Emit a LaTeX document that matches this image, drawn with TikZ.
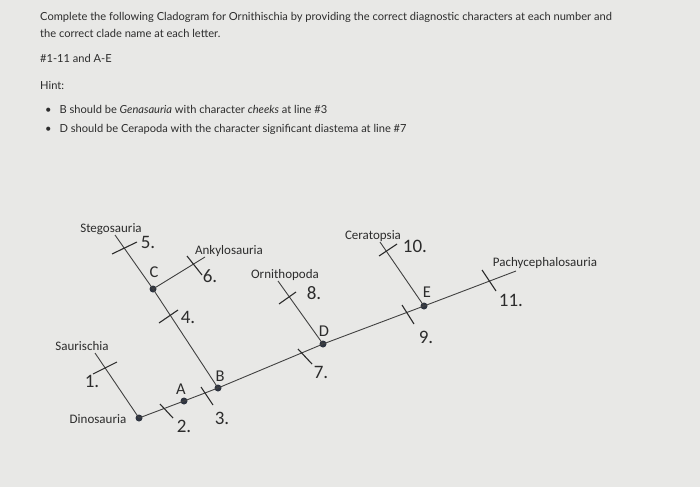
\documentclass[tikz,border=0pt]{standalone}
\usepackage{fontspec}
\setmainfont{Lato}
\newfontfamily\diafont{Carlito}
\definecolor{bgc}{HTML}{E8E8E6}
\definecolor{ink}{HTML}{2C2C2C}
\definecolor{dotc}{HTML}{2E3440}
\begin{document}
\begin{tikzpicture}[x=1pt,y=-1pt,
  branch/.style={draw=ink!90, line width=0.9pt},
  tickbar/.style={draw=ink, line width=1.1pt},
  clade/.style={font=\diafont\fontsize{13}{14}\selectfont, text=ink, inner sep=0pt},
  numlab/.style={font=\diafont\fontsize{19}{20}\selectfont, text=ink, inner sep=0pt},
  letlab/.style={font=\diafont\fontsize{16.5}{18}\selectfont, text=ink, inner sep=0pt},
  hdr/.style={font=\fontsize{11.1}{16}\selectfont, text=ink, anchor=west, inner sep=0pt},
  cdot/.style={circle, fill=dotc, minimum size=7pt, inner sep=0pt}]
\fill[bgc] (0,0) rectangle (700,487);
\useasboundingbox (0,0) rectangle (700,487);
% header
\node[hdr] (h1) at (40,17) {Complete the following Cladogram for Ornithischia by providing the correct diagnostic characters at each number and};
\node[hdr] (h2) at (40,33) {the correct clade name at each letter.};
\node[hdr] (h3) at (40,58) {\#1-11 and A-E};
\node[hdr] (h4) at (40,85) {Hint:};
\node[hdr] (b1) at (45,109) {•\hspace{8pt}B should be \textit{Genasauria} with character \textit{cheeks} at line \#3};
\node[hdr] (b2) at (45,129) {•\hspace{8pt}D should be Cerapoda with the character significant diastema at line \#7};
% nodes
\node[cdot] (dino) at (139,418) {};
\node[cdot] (A) at (184,401) {};
\node[cdot] (B) at (218,388) {};
\node[cdot] (C) at (153,289) {};
\node[cdot] (D) at (323,344) {};
\node[cdot] (E) at (424,306) {};
\coordinate (saur) at (95,353);
\coordinate (steg) at (115,235);
\coordinate (ank) at (205,257);
\coordinate (orn) at (278,281);
\coordinate (cer) at (380,242);
\coordinate (pach) at (516,271);
% branches
\draw[branch] (dino.center) -- (A.center) -- (B.center) -- (D.center) -- (E.center) -- (pach);
\draw[branch] (dino.center) -- (saur);
\draw[branch] (B.center) -- (C.center) -- (steg);
\draw[branch] (C.center) -- (ank);
\draw[branch] (D.center) -- (orn);
\draw[branch] (E.center) -- (cer);
% ticks
\draw[tickbar] (93,374) -- (117,362);
\draw[tickbar] (160,404) -- (173,418);
\draw[tickbar] (201,387) -- (213,405);
\draw[tickbar] (159,323) -- (178,310);
\draw[tickbar] (112,254) -- (137,242);
\draw[tickbar] (187,256) -- (202,275);
\draw[tickbar] (298,349) -- (312,364);
\draw[tickbar] (279,304) -- (296,292);
\draw[tickbar] (402,305) -- (414,324);
\draw[tickbar] (379,256) -- (397,244);
\draw[tickbar] (482,270) -- (496,291);
% labels
\node[clade] (lsteg) at (111,229) {Stegosauria};
\node[clade] (lank) at (229,251) {Ankylosauria};
\node[clade] (lorn) at (285,275) {Ornithopoda};
\node[clade] (lcer) at (373,236) {Ceratopsia};
\node[clade] (lpach) at (545,263) {Pachycephalosauria};
\node[clade] (lsaur) at (82,346) {Saurischia};
\node[clade] (ldino) at (98,419) {Dinosauria};
\node[letlab] (lC) at (154,272) {C};
\node[letlab] (lE) at (427,292) {E};
\node[letlab] (lD) at (324,331) {D};
\node[letlab] (lB) at (220,376) {B};
\node[letlab] (lA) at (181,389) {A};
\node[numlab] (n1) at (92,381) {1.};
\node[numlab] (n2) at (184,426) {2.};
\node[numlab] (n3) at (222,418) {3.};
\node[numlab] (n4) at (188,317) {4.};
\node[numlab] (n5) at (148,242) {5.};
\node[numlab] (n6) at (210,276) {6.};
\node[numlab] (n7) at (321,372) {7.};
\node[numlab] (n8) at (314,293) {8.};
\node[numlab] (n9) at (426,337) {9.};
\node[numlab] (n10) at (415,246) {10.};
\node[numlab] (n11) at (511,300) {11.};
\end{tikzpicture}
\end{document}
